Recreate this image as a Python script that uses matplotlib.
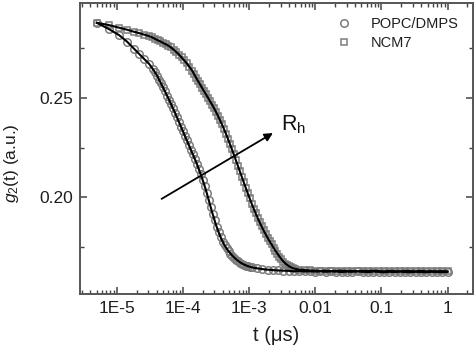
import numpy as np
import matplotlib
matplotlib.use("Agg")
import matplotlib.pyplot as plt
from matplotlib.ticker import LogLocator, FixedLocator, NullFormatter

plt.rcParams["font.family"] = ["Liberation Sans", "DejaVu Sans"]
plt.rcParams["mathtext.fontset"] = "custom"
plt.rcParams["mathtext.rm"] = "Liberation Sans"
plt.rcParams["mathtext.it"] = "Liberation Sans:italic"

# POPC/DMPS (circles) - log10 of lag time and g2 values
popc_logt = [-5.30, -5.12, -4.96, -4.84, -4.74, -4.66, -4.58, -4.51,
             -4.45, -4.42, -4.39, -4.36, -4.33, -4.30, -4.27, -4.24, -4.21, -4.18,
             -4.15, -4.12, -4.09, -4.06, -4.03, -4.00, -3.97, -3.94, -3.91, -3.88,
             -3.85, -3.82, -3.79, -3.76, -3.73, -3.70, -3.67, -3.64, -3.61, -3.58,
             -3.55, -3.52, -3.49, -3.46, -3.43, -3.40, -3.37, -3.34, -3.31, -3.28,
             -3.25, -3.22, -3.19, -3.16, -3.13, -3.10, -3.07, -3.04, -3.01, -2.98, -2.95,
             -2.88, -2.80, -2.72, -2.64, -2.56, -2.48, -2.40, -2.32, -2.24, -2.16,
             -2.08, -2.00, -1.92, -1.84, -1.76, -1.68, -1.60, -1.52, -1.44, -1.36,
             -1.28, -1.20, -1.12, -1.04, -0.96, -0.88, -0.80, -0.72, -0.64, -0.56,
             -0.48, -0.40, -0.32, -0.24, -0.16, -0.08, 0.00]
popc_g2 = [0.2879, 0.2848, 0.2816, 0.2783, 0.2749, 0.2722, 0.2695, 0.2672,
           0.2644, 0.2629, 0.2613, 0.2593, 0.2573, 0.2553, 0.2533, 0.2512, 0.2492, 0.2470,
           0.2448, 0.2426, 0.2403, 0.2380, 0.2356, 0.2333, 0.2309, 0.2286, 0.2263, 0.2239,
           0.2216, 0.2193, 0.2169, 0.2142, 0.2114, 0.2085, 0.2055, 0.2022, 0.1986, 0.1950,
           0.1915, 0.1882, 0.1851, 0.1823, 0.1798, 0.1776, 0.1757, 0.1741, 0.1727, 0.1715,
           0.1704, 0.1694, 0.1685, 0.1677, 0.1670, 0.1664, 0.1659, 0.1655, 0.1651, 0.1648, 0.1645,
           0.1641, 0.1637, 0.1634, 0.1632, 0.1630, 0.1629, 0.1628, 0.1626, 0.1627, 0.1625,
           0.1626, 0.1624, 0.1625, 0.1623, 0.1625, 0.1624, 0.1622, 0.1624, 0.1623, 0.1625,
           0.1623, 0.1622, 0.1624, 0.1623, 0.1621, 0.1623, 0.1622, 0.1624, 0.1622, 0.1621,
           0.1623, 0.1622, 0.1621, 0.1623, 0.1622, 0.1621, 0.1622]

# NCM7 (squares)
ncm_logt = [-5.30, -5.12, -4.96, -4.84, -4.74, -4.66, -4.58, -4.51,
            -4.46, -4.42, -4.38, -4.34, -4.30, -4.26, -4.22, -4.18, -4.14, -4.10,
            -4.06, -4.02, -3.98, -3.94, -3.90, -3.86,
            -3.83, -3.80, -3.77, -3.74, -3.71, -3.68, -3.65, -3.62, -3.59, -3.56,
            -3.53, -3.50, -3.47, -3.44, -3.41, -3.38, -3.35, -3.32, -3.29, -3.26,
            -3.23, -3.20, -3.17, -3.14, -3.11, -3.08, -3.05, -3.02, -2.99, -2.96,
            -2.93, -2.90, -2.87, -2.84, -2.81, -2.78, -2.75, -2.72, -2.69, -2.66,
            -2.63, -2.60, -2.57, -2.54, -2.51, -2.48, -2.45, -2.42, -2.39, -2.36,
            -2.33, -2.30,
            -2.24, -2.16, -2.08, -2.00, -1.92, -1.84, -1.76, -1.68, -1.60, -1.52,
            -1.44, -1.36, -1.28, -1.20, -1.12, -1.04, -0.96, -0.88, -0.80, -0.72,
            -0.64, -0.56, -0.48, -0.40, -0.32, -0.24, -0.16, -0.08, 0.00]
ncm_g2 = [0.2879, 0.2868, 0.2854, 0.2844, 0.2834, 0.2827, 0.2819, 0.2812,
          0.2805, 0.2798, 0.2791, 0.2785, 0.2778, 0.2771, 0.2764, 0.2755, 0.2744, 0.2732,
          0.2719, 0.2705, 0.2690, 0.2674, 0.2657, 0.2638,
          0.2620, 0.2602, 0.2585, 0.2568, 0.2551, 0.2534, 0.2518, 0.2501, 0.2484, 0.2467,
          0.2449, 0.2430, 0.2410, 0.2389, 0.2367, 0.2344, 0.2320, 0.2295, 0.2269, 0.2242,
          0.2215, 0.2187, 0.2159, 0.2131, 0.2103, 0.2075, 0.2047, 0.2020, 0.1993, 0.1967,
          0.1942, 0.1918, 0.1895, 0.1873, 0.1852, 0.1832, 0.1813, 0.1795, 0.1778, 0.1762,
          0.1745, 0.1729, 0.1714, 0.1700, 0.1687, 0.1675, 0.1665, 0.1657, 0.1650, 0.1645,
          0.1641, 0.1638,
          0.1634, 0.1632, 0.1630, 0.1629, 0.1628, 0.1629, 0.1627, 0.1628, 0.1629, 0.1627,
          0.1628, 0.1626, 0.1628, 0.1627, 0.1629, 0.1627, 0.1626, 0.1628, 0.1627, 0.1626,
          0.1628, 0.1627, 0.1626, 0.1628, 0.1626, 0.1627, 0.1626, 0.1627, 0.1626]

x_ticks = [1e-5, 1e-4, 1e-3, 1e-2, 1e-1, 1]
x_tick_labels = ["1E-5", "1E-4", "1E-3", "0.01", "0.1", "1"]
y_ticks = [0.20, 0.25]
y_tick_labels = ["0.20", "0.25"]

popc_t = 10 ** np.array(popc_logt)
ncm_t = 10 ** np.array(ncm_logt)

fig = plt.figure(figsize=(4.74, 3.49), dpi=100)
ax = fig.add_axes([0.169, 0.158, 0.829, 0.834])

mcol = "#7c7c7c"
ax.plot(popc_t, popc_g2, "o", ms=5.4, mfc="none", mec=mcol, mew=1.1, label="POPC/DMPS")
ax.plot(ncm_t, ncm_g2, "s", ms=4.8, mfc="none", mec=mcol, mew=1.1, label="NCM7")
ax.plot(popc_t, popc_g2, "-", color="black", lw=1.5)
ax.plot(ncm_t, ncm_g2, "-", color="black", lw=1.5)

ax.set_xscale("log")
ax.set_xlim(2.8e-6, 2.43)
ax.set_ylim(0.1512, 0.298)

ax.set_xticks(x_ticks)
ax.set_xticklabels(x_tick_labels)
ax.xaxis.set_minor_locator(LogLocator(base=10, subs=np.arange(2, 10), numticks=20))
ax.xaxis.set_minor_formatter(NullFormatter())
ax.set_yticks(y_ticks)
ax.set_yticklabels(y_tick_labels)
ax.yaxis.set_minor_locator(FixedLocator([0.175, 0.225, 0.275]))

ax.tick_params(which="both", direction="in", top=True, right=True, color="#444444",
               labelsize=12.5, labelcolor="#1e1e1e", pad=5)
ax.tick_params(which="major", length=5, width=1.1)
ax.tick_params(which="minor", length=3, width=1.0)
for s in ax.spines.values():
    s.set_color("#555555")
    s.set_linewidth(1.4)

ax.set_xlabel("t (\u03bcs)", fontsize=14.5, color="#1e1e1e", labelpad=7)
ax.set_ylabel("$g_2$(t) (a.u.)", fontsize=12.5, color="#1e1e1e")
ax.yaxis.set_label_coords(-0.150, 0.45)

# R_h arrow
ax.annotate("", xy=(2.3e-3, 0.2323), xytext=(4.77e-5, 0.1991),
            arrowprops=dict(arrowstyle="-|>", color="black", lw=1.3,
                            mutation_scale=12, shrinkA=0, shrinkB=0))
ax.text(3.0e-3, 0.2365, r"R$_\mathrm{h}$", fontsize=15.5, color="#111111",
        ha="left", va="center")

leg = ax.legend(loc="upper right", frameon=False, fontsize=10.5, handlelength=1.0,
                handletextpad=1.3, labelspacing=0.35, borderaxespad=0.6,
                labelcolor="#1e1e1e")

fig.savefig("out.png", dpi=100)
